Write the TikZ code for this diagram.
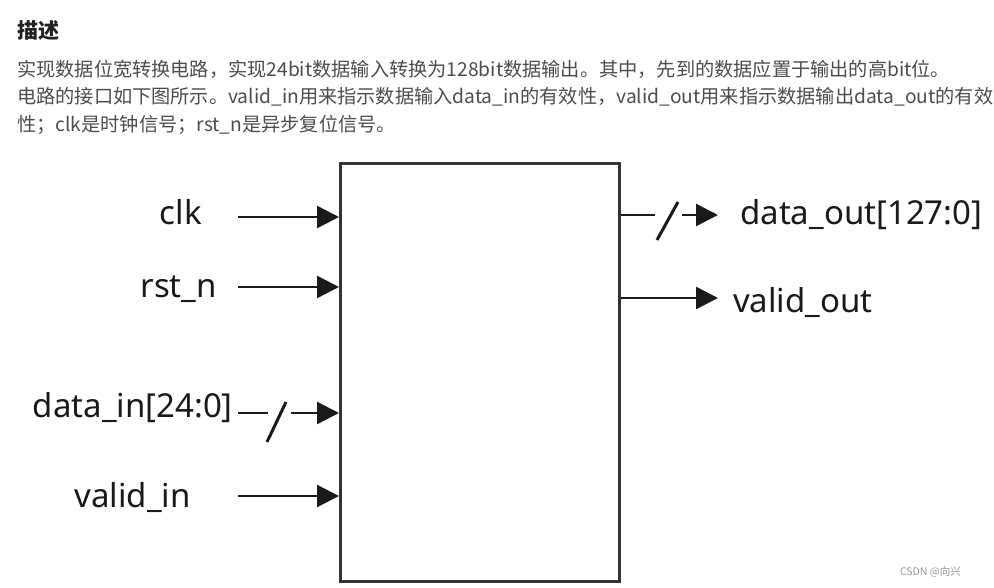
\documentclass[tikz,border=0pt]{standalone}
\usepackage{fontspec}
\setmainfont{Noto Sans}
\newfontfamily\cjk{Noto Sans CJK SC}
\usetikzlibrary{arrows.meta}
\definecolor{ink}{HTML}{1A1A1A}
\definecolor{boxc}{HTML}{333333}
\definecolor{bodyc}{HTML}{4D4D4D}
\definecolor{headc}{HTML}{222222}
\definecolor{wmc}{HTML}{999999}
\begin{document}
\begin{tikzpicture}[x=1pt,y=-1pt,
  sig/.style={line width=2.4pt,draw=ink,-{Triangle[length=22pt,width=22pt]}},
  wire/.style={line width=2.4pt,draw=ink},
  slashline/.style={line width=3pt,draw=ink},
  port/.style={font=\fontsize{33}{37}\selectfont,text=ink,inner sep=0pt},
  para/.style={font=\cjk\fontsize{19.2}{23}\selectfont,text=bodyc,inner sep=0pt,anchor=west},
]
\fill[white] (0,0) rectangle (994,587);
\useasboundingbox (0,0) rectangle (994,587);
% description text
\node[para,font=\cjk\bfseries\fontsize{21}{25}\selectfont,text=headc] (title) at (17,30) {描述};
\node[para] (l1) at (17,69) {实现数据位宽转换电路，实现24bit数据输入转换为128bit数据输出。其中，先到的数据应置于输出的高bit位。};
\node[para] (l2) at (17,97) {电路的接口如下图所示。valid\_in用来指示数据输入data\_in的有效性，valid\_out用来指示数据输出data\_out的有效};
\node[para] (l3) at (17,125) {性；clk是时钟信号；rst\_n是异步复位信号。};
% block
\node[draw=boxc,line width=3pt,minimum width=279pt,minimum height=418pt,inner sep=0pt,anchor=north west] (blk) at (339,162) {};
% inputs
\coordinate (clks) at (238,217);
\coordinate (rsts) at (238,287);
\coordinate (vis) at (238,496);
\coordinate (dis) at (238,413);
\coordinate (dia) at (268,413);
\coordinate (dib) at (291,413);
\coordinate (dsa) at (267,442);
\coordinate (dsb) at (286,402);
\draw[sig] (clks) -- (clks -| blk.west);
\draw[sig] (rsts) -- (rsts -| blk.west);
\draw[wire] (dis) -- (dia);
\draw[slashline] (dsa) -- (dsb);
\draw[sig] (dib) -- (dib -| blk.west);
\draw[sig] (vis) -- (vis -| blk.west);
\node[port,anchor=base east] (clkl) at (202,224) {clk};
\node[port,anchor=base east] (rstl) at (217,297) {rst\_n};
\node[port,anchor=base east] (dil) at (233,417) {data\_in[24:0]};
\node[port,anchor=base east] (vil) at (191,507) {valid\_in};
% outputs
\coordinate (doa) at (655,215);
\coordinate (dob) at (682,215);
\coordinate (doe) at (718,215);
\coordinate (dsc) at (657,240);
\coordinate (dsd) at (678,202);
\coordinate (voe) at (718,298);
\draw[wire] (doa -| blk.east) -- (doa);
\draw[slashline] (dsc) -- (dsd);
\draw[sig] (dob) -- (doe);
\draw[sig] (voe -| blk.east) -- (voe);
\node[port,anchor=base west] (dol) at (740,224) {data\_out[127:0]};
\node[port,anchor=base west] (vol) at (733,312) {valid\_out};
% watermark
\node[font=\cjk\fontsize{10.5}{13}\selectfont,text=wmc,anchor=east,inner sep=0pt] (wm) at (961,572) {CSDN @向兴};
\end{tikzpicture}
\end{document}
